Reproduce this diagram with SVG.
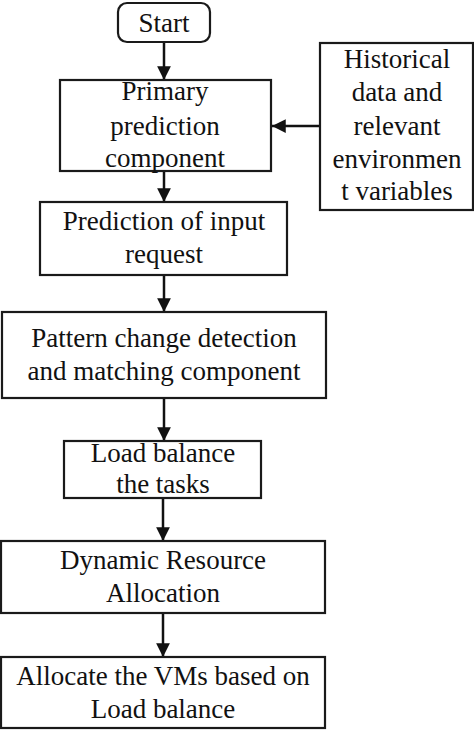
<svg xmlns="http://www.w3.org/2000/svg" width="474" height="730" viewBox="0 0 474 730">
<style>
.box{fill:#fff;stroke:#1a1a1a;stroke-width:2.2}
.t{font-family:"Liberation Serif","Times New Roman",serif;font-size:27px;fill:#111;text-anchor:middle}
.c{stroke:#111;stroke-width:2.5;fill:none}
</style>
<defs>
<marker id="ah" viewBox="0 0 10 10" refX="10" refY="5" markerWidth="5.5" markerHeight="5.5" markerUnits="strokeWidth" orient="auto">
<path d="M0,0 L10,5 L0,10 Z" fill="#111"/>
</marker>
</defs>
<rect width="474" height="730" fill="#fff"/>
<g id="connectors">
<line class="c" x1="164" y1="42" x2="164" y2="80" marker-end="url(#ah)"/>
<line class="c" x1="320" y1="126" x2="272" y2="126" marker-end="url(#ah)"/>
<line class="c" x1="164" y1="171" x2="164" y2="202" marker-end="url(#ah)"/>
<line class="c" x1="164" y1="275" x2="164" y2="312" marker-end="url(#ah)"/>
<line class="c" x1="164" y1="398" x2="164" y2="441" marker-end="url(#ah)"/>
<line class="c" x1="163" y1="498" x2="163" y2="541" marker-end="url(#ah)"/>
<line class="c" x1="163" y1="613" x2="163" y2="657" marker-end="url(#ah)"/>
</g>
<g id="start">
<rect class="box" x="118" y="3" width="92" height="39" rx="9"/>
<text class="t" x="164" y="32">Start</text>
</g>
<g id="historical">
<rect class="box" x="320" y="43" width="153" height="167"/>
<text class="t" x="397" y="68">Historical</text>
<text class="t" x="397" y="101">data and</text>
<text class="t" x="397" y="135">relevant</text>
<text class="t" x="397" y="168">environmen</text>
<text class="t" x="397" y="200">t variables</text>
</g>
<g id="primary">
<rect class="box" x="60" y="80" width="211" height="91"/>
<text class="t" x="165" y="100">Primary</text>
<text class="t" x="165" y="135">prediction</text>
<text class="t" x="165" y="167">component</text>
</g>
<g id="prediction">
<rect class="box" x="40" y="202" width="247" height="73"/>
<text class="t" x="164" y="230">Prediction of input</text>
<text class="t" x="164" y="263">request</text>
</g>
<g id="pattern">
<rect class="box" x="2" y="312" width="324" height="86"/>
<text class="t" x="164" y="347">Pattern change detection</text>
<text class="t" x="164" y="380">and matching component</text>
</g>
<g id="loadbalance">
<rect class="box" x="64" y="441" width="197" height="57"/>
<text class="t" x="163" y="462">Load balance</text>
<text class="t" x="163" y="493">the tasks</text>
</g>
<g id="dynamic">
<rect class="box" x="1" y="541" width="324" height="72"/>
<text class="t" x="163" y="569">Dynamic Resource</text>
<text class="t" x="163" y="602">Allocation</text>
</g>
<g id="allocate">
<rect class="box" x="1" y="657" width="324" height="71"/>
<text class="t" x="163" y="685">Allocate the VMs based on</text>
<text class="t" x="163" y="718">Load balance</text>
</g>
</svg>
